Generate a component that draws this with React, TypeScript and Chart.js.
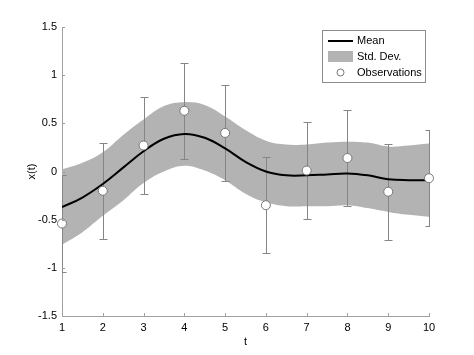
import React, { useEffect, useRef } from "react";
import { Chart, registerables } from "chart.js";

Chart.register(...registerables);

// Observations
const T_OBS = [1, 2, 3, 4, 5, 6, 7, 8, 9, 10];
const OBS = [-0.54, -0.2, 0.27, 0.63, 0.4, -0.35, 0.01, 0.14, -0.21, -0.07];
const OBS_ERR = [0.5, 0.5, 0.5, 0.5, 0.5, 0.5, 0.5, 0.5, 0.5, 0.5];

// Posterior mean and std. dev. band, read at half steps
const T_CURVE = [1, 1.5, 2, 2.5, 3, 3.5, 4, 4.5, 5, 5.5, 6, 6.5, 7, 7.5, 8, 8.5, 9, 9.5, 10];
const MEAN = [-0.37, -0.27, -0.13, 0.04, 0.21, 0.34, 0.39, 0.35, 0.24, 0.1, 0.0, -0.04, -0.04, -0.03, -0.02, -0.04, -0.08, -0.09, -0.09];
const UPPER = [0.02, 0.09, 0.2, 0.38, 0.54, 0.68, 0.72, 0.69, 0.57, 0.43, 0.32, 0.28, 0.28, 0.3, 0.31, 0.3, 0.26, 0.27, 0.29];
const LOWER = [-0.76, -0.63, -0.46, -0.3, -0.12, 0.0, 0.06, 0.01, -0.09, -0.23, -0.32, -0.36, -0.36, -0.36, -0.35, -0.38, -0.42, -0.45, -0.47];

const Y_TICK_VALUES = [-1.5, -1, -0.5, 0, 0.5, 1, 1.5];
const Y_TICK_LABELS = ["-1.5", "-1", "-0.5", "0", "0.5", "1", "1.5"];
const X_TICK_LABELS = ["1", "2", "3", "4", "5", "6", "7", "8", "9", "10"];

const LEGEND_LABELS = ["Mean", "Std. Dev.", "Observations"];
const X_TITLE = "t";
const Y_TITLE = "x(t)";

const FONT = '"Liberation Sans", Arial, Helvetica, sans-serif';
const AXIS_COLOR = "#a0a0a0";
const BAND_COLOR = "#b3b3b3";
const ERR_COLOR = "#858585";

const errorBarPlugin = {
  id: "errorBars",
  afterDatasetDraw(chart: any, args: any) {
    if (args.index !== 2) return;
    const { ctx, chartArea, scales } = chart;
    const xs = scales.x;
    const ys = scales.y;
    ctx.save();
    ctx.beginPath();
    ctx.rect(chartArea.left, chartArea.top, chartArea.right - chartArea.left + 1, chartArea.bottom - chartArea.top);
    ctx.clip();
    ctx.strokeStyle = ERR_COLOR;
    ctx.lineWidth = 1;
    for (let i = 0; i < T_OBS.length; i++) {
      const x = Math.round(xs.getPixelForValue(T_OBS[i])) + 0.5;
      const y1 = Math.round(ys.getPixelForValue(OBS[i] + OBS_ERR[i])) + 0.5;
      const y2 = Math.round(ys.getPixelForValue(OBS[i] - OBS_ERR[i])) + 0.5;
      ctx.beginPath();
      ctx.moveTo(x, y1);
      ctx.lineTo(x, y2);
      ctx.moveTo(x - 4, y1);
      ctx.lineTo(x + 4, y1);
      ctx.moveTo(x - 4, y2);
      ctx.lineTo(x + 4, y2);
      ctx.stroke();
    }
    ctx.restore();
  },
};

const decorPlugin = {
  id: "decor",
  afterDraw(chart: any) {
    const { ctx, chartArea, scales } = chart;
    const xs = scales.x;
    const ys = scales.y;
    ctx.save();
    // inward ticks
    ctx.strokeStyle = AXIS_COLOR;
    ctx.lineWidth = 1;
    ctx.beginPath();
    for (const t of T_OBS) {
      const x = Math.round(xs.getPixelForValue(t)) + 0.5;
      ctx.moveTo(x, chartArea.bottom);
      ctx.lineTo(x, chartArea.bottom - 3);
    }
    for (const v of Y_TICK_VALUES) {
      const y = Math.round(ys.getPixelForValue(v)) + 0.5;
      ctx.moveTo(chartArea.left, y);
      ctx.lineTo(chartArea.left + 3, y);
    }
    ctx.stroke();

    // axis titles
    ctx.fillStyle = "#000";
    ctx.font = `11px ${FONT}`;
    ctx.textAlign = "center";
    ctx.textBaseline = "middle";
    ctx.fillText(X_TITLE, (chartArea.left + chartArea.right) / 2, 342);
    ctx.save();
    ctx.translate(32, (chartArea.top + chartArea.bottom) / 2);
    ctx.rotate(-Math.PI / 2);
    ctx.fillText(Y_TITLE, 0, 0);
    ctx.restore();

    // legend
    const lx = 322.5, ly = 30.5, lw = 103, lh = 52;
    ctx.fillStyle = "#fff";
    ctx.fillRect(lx, ly, lw, lh);
    ctx.strokeStyle = "#8c8c8c";
    ctx.strokeRect(lx, ly, lw, lh);
    // mean line
    ctx.strokeStyle = "#000";
    ctx.lineWidth = 2;
    ctx.beginPath();
    ctx.moveTo(328, 41);
    ctx.lineTo(353, 41);
    ctx.stroke();
    // band rect
    ctx.fillStyle = BAND_COLOR;
    ctx.fillRect(328, 51, 25, 11);
    // observation circle
    ctx.lineWidth = 1;
    ctx.strokeStyle = "#777";
    ctx.fillStyle = "#fff";
    ctx.beginPath();
    ctx.arc(340.5, 72.5, 3.5, 0, Math.PI * 2);
    ctx.fill();
    ctx.stroke();
    ctx.fillStyle = "#000";
    ctx.textAlign = "left";
    ctx.fillText(LEGEND_LABELS[0], 357, 41);
    ctx.fillText(LEGEND_LABELS[1], 357, 57);
    ctx.fillText(LEGEND_LABELS[2], 357, 73);
    ctx.restore();
  },
};

export default function App() {
  const ref = useRef<HTMLCanvasElement | null>(null);

  useEffect(() => {
    if (!ref.current) return;
    const chart = new Chart(ref.current, {
      type: "line",
      data: {
        datasets: [
          {
            label: "Observations",
            data: T_OBS.map((t, i) => ({ x: t, y: OBS[i] })),
            showLine: false,
            pointRadius: 4.5,
            pointBackgroundColor: "#fff",
            pointBorderColor: "#777",
            pointBorderWidth: 1,
            clip: false as any,
            order: 0,
          },
          {
            label: "Mean",
            data: T_CURVE.map((t, i) => ({ x: t, y: MEAN[i] })),
            borderColor: "#000",
            borderWidth: 2,
            pointRadius: 0,
            tension: 0.4,
            fill: false,
            order: 1,
          },
          {
            label: "Std. Dev.",
            data: T_CURVE.map((t, i) => ({ x: t, y: UPPER[i] })),
            borderWidth: 0,
            borderColor: BAND_COLOR,
            backgroundColor: BAND_COLOR,
            pointRadius: 0,
            tension: 0.4,
            fill: "+1",
            order: 2,
          },
          {
            label: "lower",
            data: T_CURVE.map((t, i) => ({ x: t, y: LOWER[i] })),
            borderWidth: 0,
            borderColor: BAND_COLOR,
            pointRadius: 0,
            tension: 0.4,
            fill: false,
            order: 3,
          },
        ],
      },
      options: {
        responsive: false,
        animation: false,
        devicePixelRatio: 1,
        layout: { padding: { top: 27, right: 45, left: 0, bottom: 0 } },
        plugins: {
          legend: { display: false },
          tooltip: { enabled: false },
        },
        scales: {
          x: {
            type: "linear",
            min: 1,
            max: 10,
            afterFit: (s: any) => {
              s.height = 39;
            },
            afterBuildTicks: (s: any) => {
              s.ticks = T_OBS.map((v) => ({ value: v }));
            },
            ticks: {
              color: "#000",
              font: { family: FONT, size: 11 },
              padding: 5,
              maxRotation: 0,
              autoSkip: false,
              callback: (v: any) => X_TICK_LABELS[T_OBS.indexOf(Number(v))] ?? "",
            },
            grid: { drawOnChartArea: false, drawTicks: false },
            border: { display: true, color: AXIS_COLOR, width: 1 },
          },
          y: {
            type: "linear",
            min: -1.5,
            max: 1.5,
            afterFit: (s: any) => {
              s.width = 62;
            },
            afterBuildTicks: (s: any) => {
              s.ticks = Y_TICK_VALUES.map((v) => ({ value: v }));
            },
            ticks: {
              color: "#000",
              font: { family: FONT, size: 11 },
              padding: 5,
              autoSkip: false,
              callback: (v: any) => Y_TICK_LABELS[Y_TICK_VALUES.indexOf(Number(v))] ?? "",
            },
            grid: { drawOnChartArea: false, drawTicks: false },
            border: { display: true, color: AXIS_COLOR, width: 1 },
          },
        },
      } as any,
      plugins: [errorBarPlugin, decorPlugin],
    });
    return () => chart.destroy();
  }, []);

  return (
    <div style={{ position: "absolute", left: 0, top: 0, width: 474, height: 355, background: "#fff" }}>
      <canvas ref={ref} width={474} height={355} style={{ display: "block" }} />
    </div>
  );
}
